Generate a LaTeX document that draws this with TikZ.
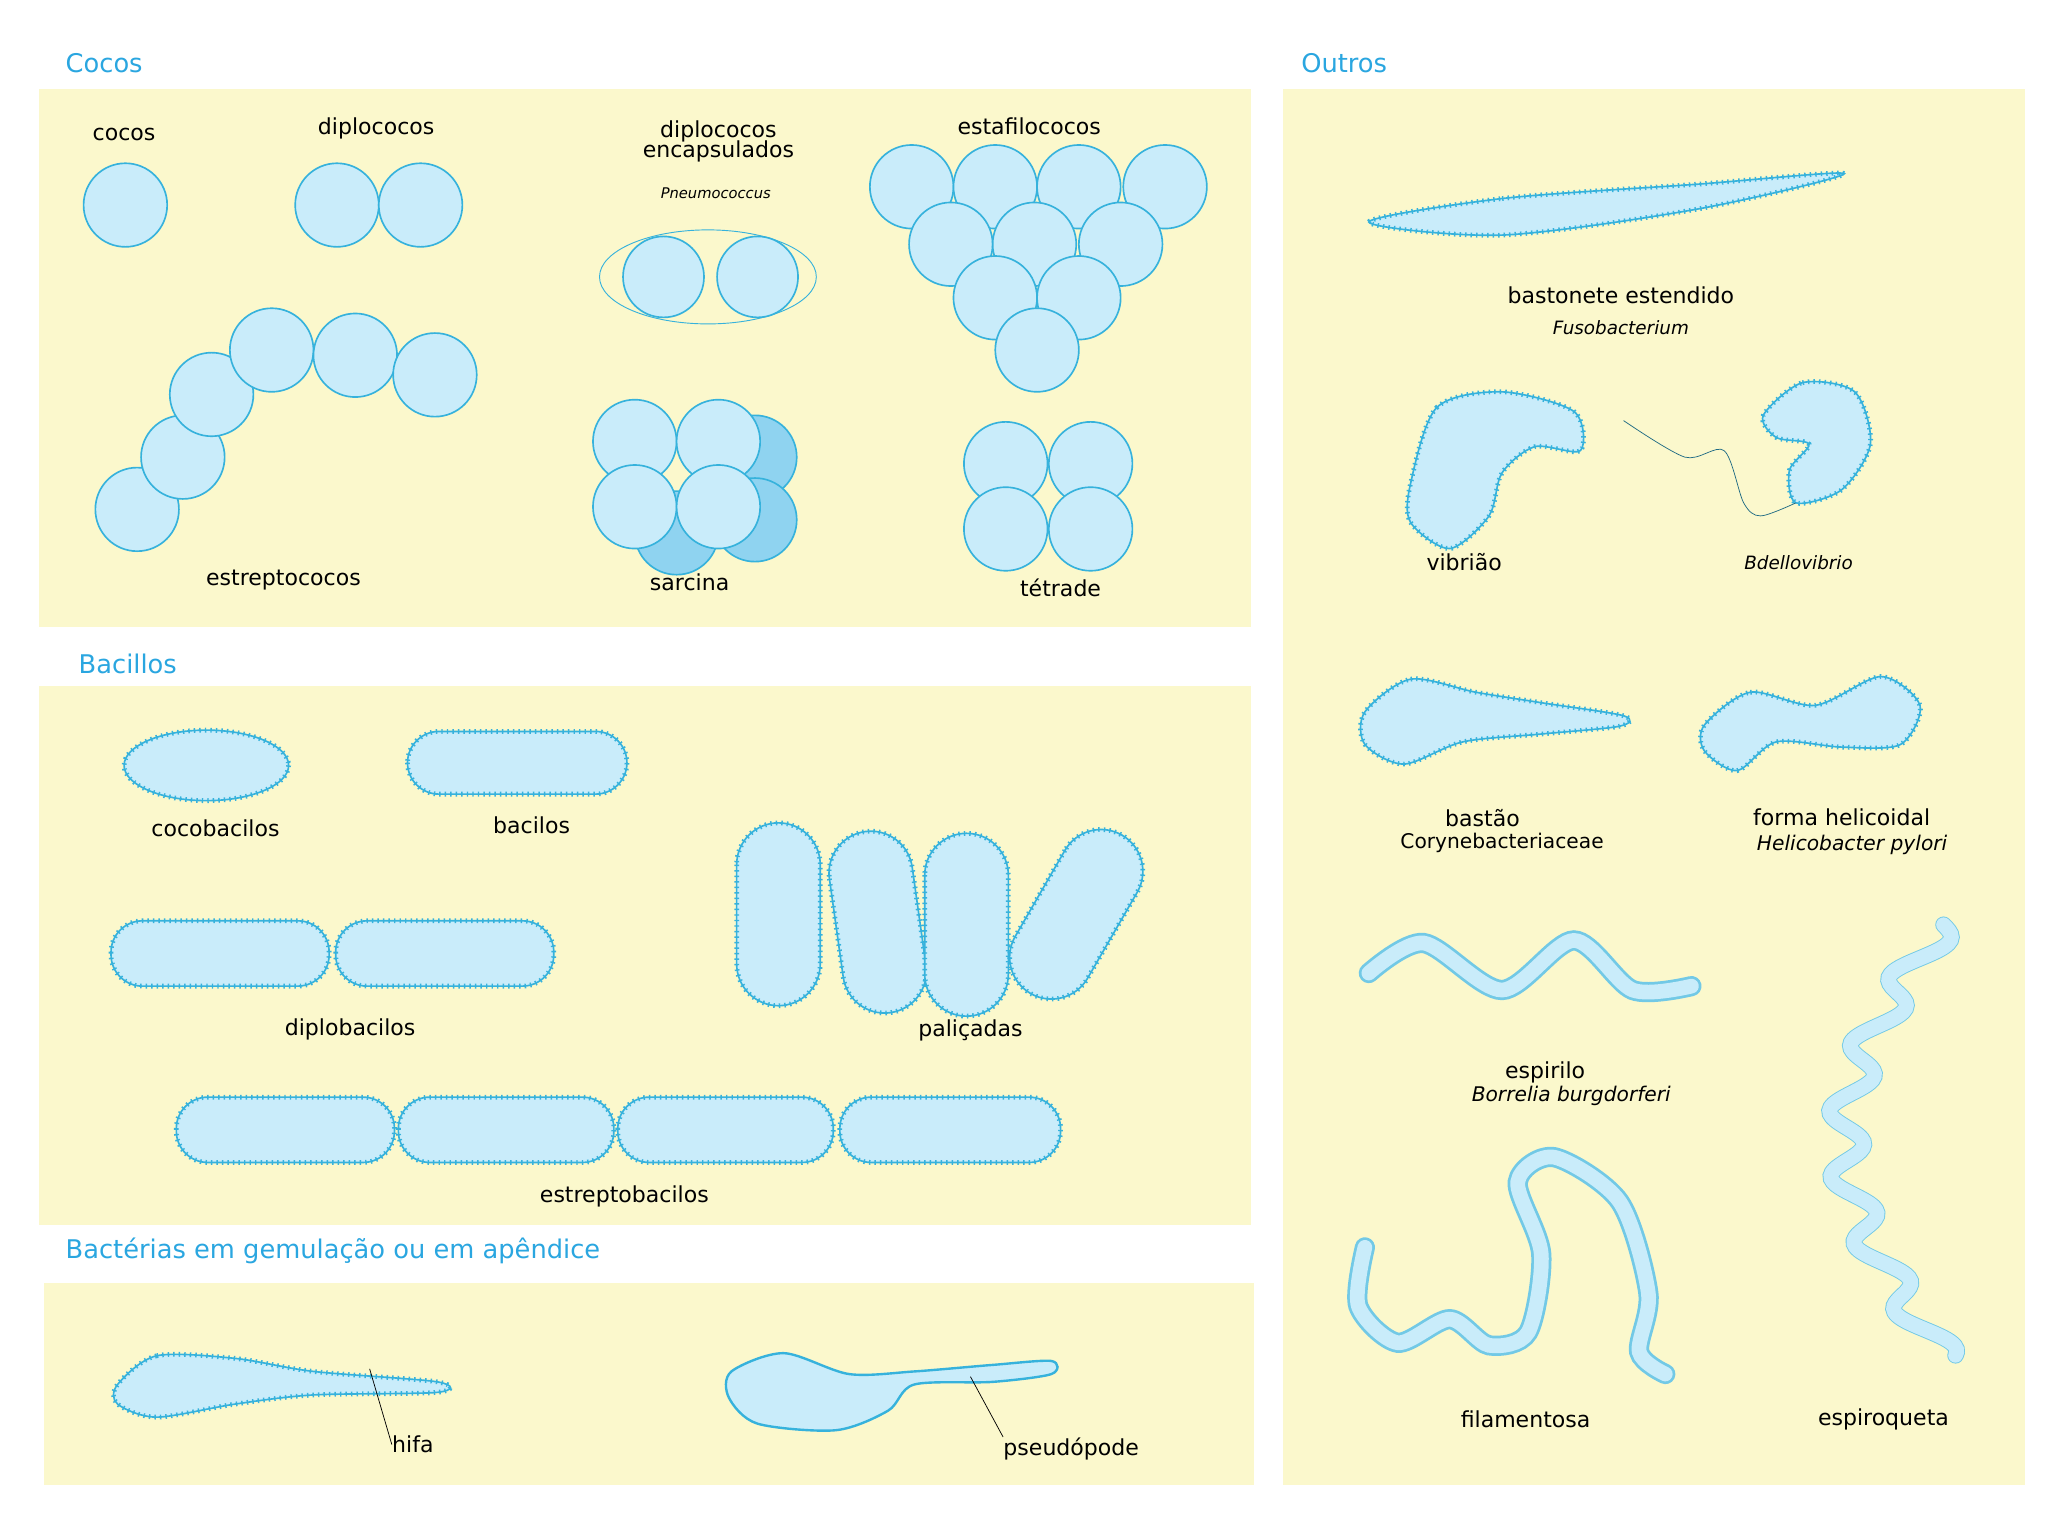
\documentclass[tikz,border=0pt]{standalone}
\usepackage{fontspec}
\setmainfont{DejaVu Sans}
\usetikzlibrary{positioning}
\definecolor{panel}{HTML}{FBF8CC}
\definecolor{cellF}{HTML}{C9ECFA}
\definecolor{cellD}{HTML}{36B2DC}
\definecolor{cellS}{HTML}{8FD3F0}
\definecolor{ttl}{HTML}{2AA6E0}
\tikzset{
  cell/.style={fill=cellF, draw=cellD, line width=0.9pt},
  bac/.style={cell, postaction={draw=cellD, line width=2.6pt, dash pattern=on 0.8pt off 2.2pt}},
  tube/.style={draw=cellD!70, line width=11pt, line cap=round, postaction={draw=cellF, line width=8pt, line cap=round}},
  lbl/.style={font=\fontsize{12}{13}\selectfont, inner sep=0pt},
  sp/.style={font=\fontsize{10}{11}\selectfont\itshape, inner sep=0pt},
  ttlst/.style={font=\fontsize{14}{15}\selectfont, text=ttl, anchor=west, inner sep=0pt},
  pnl/.style={fill=panel, draw=none}
}
\begin{document}
\begin{tikzpicture}[x=0.025cm, y=-0.025cm]
\useasboundingbox (0,0) rectangle (1568,1176);
% panels
\fill[pnl] (30,68) rectangle (958,480);
\fill[pnl] (30,525) rectangle (958,938);
\fill[pnl] (34,982) rectangle (960,1137);
\fill[pnl] (982,68) rectangle (1550,1137);
\node[ttlst] (tcocos) at (50,48) {Cocos};
\node[ttlst] (tbac) at (60,508) {Bacillos};
\node[ttlst] (tgem) at (50,958) {Bactérias em gemulação ou em apêndice};
\node[ttlst] (toutros) at (996,48) {Outros};
% cocos
\draw[cell] (96,157) circle (32);
\foreach \x in {258,322} \draw[cell] (\x,157) circle (32);
\draw[draw=cellD, line width=0.5pt] (542,212) ellipse (83 and 36);
\foreach \x in {508,580} \draw[cell] (\x,212) circle (31);
\foreach \p in {(698,143),(762,143),(826,143),(892,143),(728,187),(792,187),(858,187),(762,228),(826,228),(794,268)}
  \draw[cell] \p circle (32);
\foreach \p in {(105,390),(140,350),(162,302),(208,268),(272,272),(333,287)}
  \draw[cell] \p circle (32);
\foreach \p in {(578,350),(578,398),(518,408)} \draw[cell, fill=cellS] \p circle (32);
\foreach \p in {(486,338),(550,338),(486,388),(550,388)} \draw[cell] \p circle (32);
\foreach \p in {(770,355),(835,355),(770,405),(835,405)} \draw[cell] \p circle (32);
\node[lbl] (lcocos) at (95,103) {cocos};
\node[lbl] (ldiplo) at (288,98) {diplococos};
\node[lbl, align=center] (lencap) at (550,108) {diplococos\\[-2pt]encapsulados};
\node[sp, font=\fontsize{8}{9}\selectfont\itshape] (lpneu) at (548,148) {Pneumococcus};
\node[lbl] (lestaf) at (788,97) {estafilococos};
\node[lbl] (lestrep) at (217,444) {estreptococos};
\node[lbl] (lsarc) at (528,446) {sarcina};
\node[lbl] (ltetr) at (812,450) {tétrade};
% bacilos
\draw[bac] (158,586) ellipse (63 and 27);
\node[lbl] (lcocob) at (165,634) {cocobacilos};
\draw[bac, rounded corners=0.6cm] (312,560) rectangle (480,608);
\node[lbl] (lbacil) at (407,632) {bacilos};
\draw[bac, rounded corners=0.6cm] (85,705) rectangle (252,755);
\draw[bac, rounded corners=0.6cm] (257,705) rectangle (424,755);
\node[lbl] (ldiplob) at (268,788) {diplobacilos};
\foreach \a/\b in {135/302,305/470,473/638,643/812}
  \draw[bac, rounded corners=0.6cm] (\a,840) rectangle (\b,890);
\node[lbl] (lestrepb) at (478,916) {estreptobacilos};
\foreach \cx/\cy/\r in {596/700/0,672/706/8,740/708/0,824/700/-30}
  \draw[bac, rounded corners=0.8cm, shift={(\cx,\cy)}, rotate=\r] (-32,-70) rectangle (32,70);
\node[lbl] (lpalic) at (743,789) {paliçadas};
% gemulacao
\draw[bac] plot[smooth cycle] coordinates {(90,1060) (120,1038) (180,1040) (240,1050) (335,1058) (335,1066) (240,1068) (180,1075) (120,1085) (90,1075)};
\node[lbl, anchor=west] (lhifa) at (300,1106) {hifa};
\coordinate (hifa) at (283,1048);
\draw[thin] (hifa) -- (lhifa.west);
\draw[cell, line width=1.3pt] plot[smooth cycle] coordinates {(560,1050) (600,1036) (650,1052) (700,1050) (760,1045) (805,1042) (805,1052) (760,1058) (700,1060) (680,1080) (640,1095) (580,1090) (558,1070)};
\node[lbl, anchor=west] (lpseudo) at (768,1109) {pseudópode};
\coordinate (pseudo) at (743,1054);
\draw[thin] (pseudo) -- (lpseudo.north west);
% outros
\draw[bac] plot[smooth cycle] coordinates {(1048,170) (1150,152) (1300,141) (1412,133) (1300,160) (1150,180)};
\node[lbl] (lbast) at (1241,226) {bastonete estendido};
\node[sp] (lfuso) at (1241,251) {Fusobacterium};
\draw[bac] plot[smooth cycle] coordinates {(1080,370) (1100,312) (1150,300) (1205,315) (1210,345) (1175,342) (1150,362) (1140,395) (1110,420) (1080,400)};
\node[lbl] (lvib) at (1121,430) {vibrião};
\draw[bac] plot[smooth cycle] coordinates {(1350,318) (1380,293) (1420,300) (1432,340) (1410,375) (1375,385) (1370,360) (1385,340) (1360,335)};
\draw[cellD!60!black, thin] plot[smooth] coordinates {(1243,322) (1290,350) (1320,345) (1335,385) (1348,395) (1375,385)};
\node[sp] (lbdel) at (1377,431) {Bdellovibrio};
\draw[bac] plot[smooth cycle] coordinates {(1045,545) (1080,520) (1130,530) (1180,538) (1243,548) (1240,556) (1180,562) (1120,568) (1075,585) (1045,570)};
\node[lbl] (lbastao) at (1135,626) {bastão};
\node[lbl, font=\fontsize{11}{12}\selectfont] (lcory) at (1150,645) {Corynebacteriaceae};
\draw[bac] plot[smooth cycle] coordinates {(1305,555) (1340,530) (1390,540) (1440,518) (1470,540) (1455,570) (1410,572) (1360,568) (1330,590) (1305,575)};
\node[lbl] (lhelic) at (1410,626) {forma helicoidal};
\node[sp, font=\fontsize{11}{12}\selectfont\itshape] (lhelip) at (1418,647) {Helicobacter pylori};
\draw[tube] plot[smooth] coordinates {(1048,745) (1090,722) (1150,758) (1205,720) (1250,758) (1295,755)};
\node[lbl] (lespir) at (1183,821) {espirilo};
\node[sp, font=\fontsize{11}{12}\selectfont\itshape] (lborr) at (1203,839) {Borrelia burgdorferi};
\draw[tube] plot[smooth] coordinates {(1045,955) (1040,1000) (1070,1028) (1110,1010) (1140,1030) (1170,1020) (1180,960) (1162,905) (1190,886) (1240,920) (1262,990) (1255,1035) (1275,1052)};
\node[lbl] (lfila) at (1168,1087) {filamentosa};
\draw[tube, line width=9pt, postaction={draw=cellF, line width=6pt}] plot[domain=0:1, samples=140, smooth] ({1488-75*sin(\x*180)+14*sin(\x*2300)}, {708+330*\x});
\node[lbl] (lespiroq) at (1442,1087) {espiroqueta};
\end{tikzpicture}
\end{document}
